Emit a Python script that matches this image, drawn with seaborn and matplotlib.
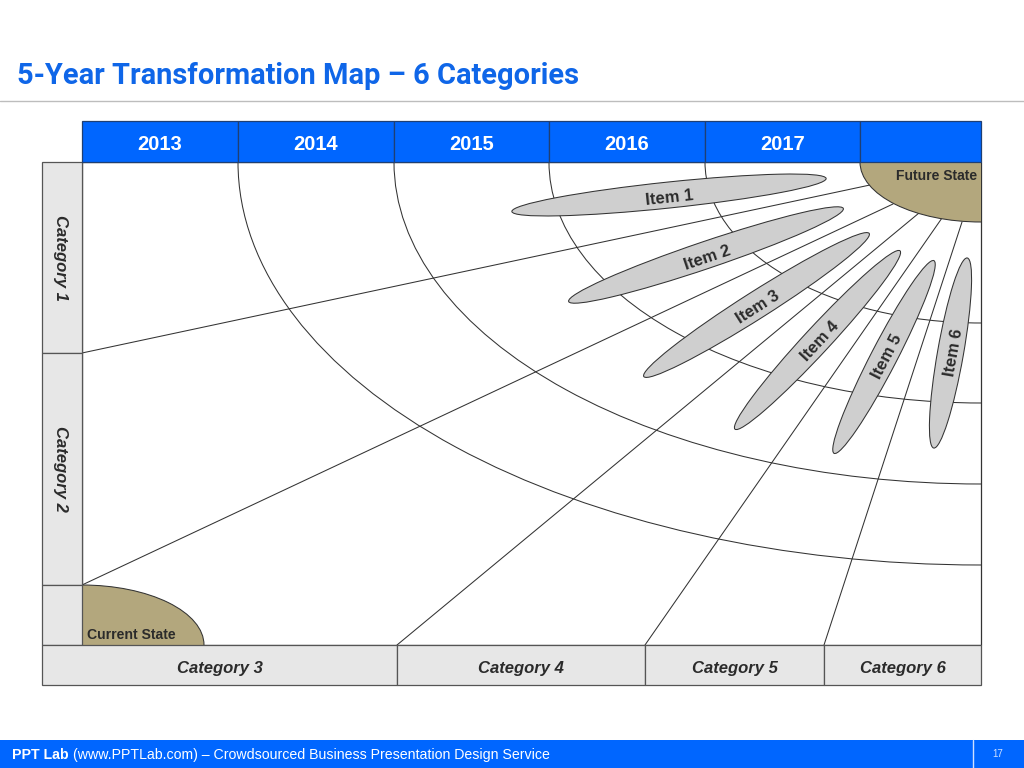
import pandas as pd
import matplotlib
matplotlib.use("Agg")
import matplotlib.pyplot as plt
from matplotlib.patches import Rectangle, Ellipse, Arc
import seaborn as sns

title = "5-Year Transformation Map \u2013 6 Categories"
years = ["2013", "2014", "2015", "2016", "2017", ""]
year_edges = [82, 238, 394, 549, 705, 860, 981]

side_labels = ["Category 1", "Category 2", ""]
side_edges = [162, 353, 585, 645]
bottom_labels = ["Category 3", "Category 4", "Category 5", "Category 6"]
bottom_edges = [42, 397, 645, 824, 981]

# quarter ellipses around the future state corner
arc_widths = [276, 432, 587, 743]
arc_heights = [161, 241, 322, 403]

# rays: outer end, inner end
ray_x0 = [82, 82, 397, 645, 824]
ray_y0 = [353, 585, 645, 645, 645]
ray_x1 = [870, 893, 919, 942, 962]
ray_y1 = [185, 204, 213, 218, 222]

items = ["Item 1", "Item 2", "Item 3", "Item 4", "Item 5", "Item 6"]
item_x = [669, 706, 756.5, 817.5, 884, 950.5]
item_y = [195, 255, 305, 340, 357, 353]
item_len = [316, 290, 267, 243, 217, 193]
item_tilt = [6, 18.7, 32.4, 47.2, 62.6, 80]
item_thick = [26, 27, 27, 26, 26, 26]
item_label_x = [669, 707, 758, 820, 887, 954]
item_label_y = [198, 258, 307, 341, 357, 353]

BLUE = "#0066FF"
TITLE_BLUE = "#0F66E8"
TAN = "#B3A77D"
GREY = "#E7E7E7"
ITEM_GREY = "#CFCFCF"
LINE = "#333333"
TEXT = "#2B2B2B"

sns.set_theme(style="white")
plt.rcParams["font.family"] = ["Liberation Sans", "DejaVu Sans"]

fig, ax = plt.subplots(figsize=(10.24, 7.68), dpi=100)
fig.subplots_adjust(0, 0, 1, 1)
ax.set_xlim(0, 1024)
ax.set_ylim(768, 0)
ax.axis("off")

# title and rule
ax.text(17, 76, title, fontsize=20.9, fontweight="bold", color=TITLE_BLUE, va="center",
        family=["Roboto", "Liberation Sans"])
ax.plot([0, 1024], [101, 101], color="#BDBDBD", lw=1)

# main white box
box = Rectangle((82, 162), 899, 483, fc="white", ec=LINE, lw=0.9, zorder=1)
ax.add_patch(box)

# arcs
for w, h in zip(arc_widths, arc_heights):
    ax.add_patch(Arc((981, 162), 2 * w, 2 * h, theta1=90, theta2=180, color=LINE, lw=0.75, zorder=2))

# rays
rays = pd.DataFrame({
    "x": ray_x0 + ray_x1,
    "y": ray_y0 + ray_y1,
    "ray": list(range(5)) * 2,
})
sns.lineplot(data=rays, x="x", y="y", units="ray", estimator=None, sort=False,
             color=LINE, lw=0.75, ax=ax, legend=False, zorder=2)
ax.set_xlim(0, 1024)
ax.set_ylim(768, 0)

# future and current state
future = Ellipse((981, 162), 242, 120, fc=TAN, ec=LINE, lw=0.75, zorder=3)
ax.add_patch(future)
future.set_clip_path(box)
current = Ellipse((82, 645), 244, 120, fc=TAN, ec=LINE, lw=0.75, zorder=3)
ax.add_patch(current)
current.set_clip_path(box)
ax.text(977, 176, "Future State", fontsize=10, fontweight="bold", color=TEXT, ha="right", va="center", zorder=4)
ax.text(87, 635, "Current State", fontsize=10.1, fontweight="bold", color=TEXT, ha="left", va="center", zorder=4)

# year header
for i, yr in enumerate(years):
    ax.add_patch(Rectangle((year_edges[i], 121), year_edges[i + 1] - year_edges[i], 41,
                           fc=BLUE, ec="#1F3F73", lw=0.9, zorder=5))
    ax.text((year_edges[i] + year_edges[i + 1]) / 2, 144, yr, color="white", fontsize=14.5,
            fontweight="bold", ha="center", va="center", zorder=6)

# left side categories
for i, lab in enumerate(side_labels):
    ax.add_patch(Rectangle((42, side_edges[i]), 40, side_edges[i + 1] - side_edges[i],
                           fc=GREY, ec="#555555", lw=0.9, zorder=4))
    ax.text(60, (side_edges[i] + side_edges[i + 1]) / 2, lab, rotation=270, fontsize=12,
            fontweight="bold", fontstyle="italic", color=TEXT, ha="center", va="center", zorder=6)

# bottom categories
for i, lab in enumerate(bottom_labels):
    ax.add_patch(Rectangle((bottom_edges[i], 645), bottom_edges[i + 1] - bottom_edges[i], 40,
                           fc=GREY, ec="#555555", lw=0.9, zorder=4))
    ax.text((bottom_edges[i] + bottom_edges[i + 1]) / 2, 669, lab, fontsize=12,
            fontweight="bold", fontstyle="italic", color=TEXT, ha="center", va="center", zorder=6)

# item ellipses
for i, lab in enumerate(items):
    ax.add_patch(Ellipse((item_x[i], item_y[i]), item_len[i], item_thick[i], angle=-item_tilt[i],
                         fc=ITEM_GREY, ec=LINE, lw=0.75, zorder=5))
    ax.text(item_label_x[i], item_label_y[i], lab, rotation=item_tilt[i], rotation_mode="anchor",
            fontsize=12, fontweight="bold", color=TEXT, ha="center", va="center", zorder=6)

# footer
ax.add_patch(Rectangle((0, 740), 1024, 28, fc=BLUE, ec="none", zorder=5))
ax.plot([973, 973], [740, 768], color="#CFE0FF", lw=1, zorder=6)
ax.text(12, 755, "PPT Lab", fontsize=10.2, fontweight="bold", color="white", va="center", zorder=6)
ax.text(73, 755, "(www.PPTLab.com) \u2013 Crowdsourced Business Presentation Design Service",
        fontsize=10.15, color="white", va="center", zorder=6)
ax.text(998, 754, "17", fontsize=7, color="#CFE0FF", ha="center", va="center", zorder=6)

plt.savefig("out.png", dpi=100)
